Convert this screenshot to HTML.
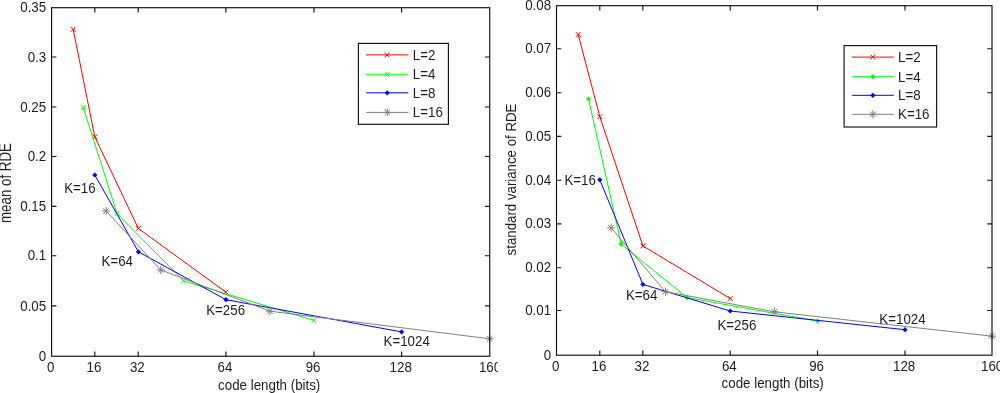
<!DOCTYPE html>
<html><head><meta charset="utf-8"><title>RDE plots</title>
<style>
html,body{margin:0;padding:0;background:#fff;}
body{width:1000px;height:393px;overflow:hidden;}
svg{display:block;}
svg text{font-family:"Liberation Sans",sans-serif;font-size:13.33px;fill:#1c1c1c;}
</style></head>
<body>
<svg width="1000" height="393" viewBox="0 0 1000 393">
<rect width="1000" height="393" fill="#fff"/>
<defs><clipPath id="cl"><rect x="0" y="0" width="497.7" height="393"/></clipPath></defs>
<g clip-path="url(#cl)">
<polyline points="73.2,29.4 94.8,136.9 138.3,228.4 225.8,292.1" fill="none" stroke="#ff0000" stroke-width="1"/>
<path d="M70.8 27L75.6 31.8M70.8 31.8L75.6 27" stroke="#ff0000" stroke-width="1" fill="none"/>
<path d="M92.4 134.5L97.2 139.3M92.4 139.3L97.2 134.5" stroke="#ff0000" stroke-width="1" fill="none"/>
<path d="M135.9 226L140.7 230.8M135.9 230.8L140.7 226" stroke="#ff0000" stroke-width="1" fill="none"/>
<path d="M223.4 289.7L228.2 294.5M223.4 294.5L228.2 289.7" stroke="#ff0000" stroke-width="1" fill="none"/>
<polyline points="83.3,107.7 117,213.5 183.5,280.8 313.9,320.4" fill="none" stroke="#00ff00" stroke-width="1"/>
<path d="M80.9 105.3L85.7 110.1M80.9 110.1L85.7 105.3" stroke="#00ff00" stroke-width="1" fill="none"/>
<path d="M114.6 211.1L119.4 215.9M114.6 215.9L119.4 211.1" stroke="#00ff00" stroke-width="1" fill="none"/>
<path d="M181.1 278.4L185.9 283.2M181.1 283.2L185.9 278.4" stroke="#00ff00" stroke-width="1" fill="none"/>
<path d="M311.5 318L316.3 322.8M311.5 322.8L316.3 318" stroke="#00ff00" stroke-width="1" fill="none"/>
<polyline points="94.8,175 138.5,251.9 226,299.7 401.6,331.9" fill="none" stroke="#0000ff" stroke-width="1"/>
<path d="M94.8 172.4L97.4 175L94.8 177.6L92.2 175Z" fill="#0000ff"/>
<path d="M138.5 249.3L141.1 251.9L138.5 254.5L135.9 251.9Z" fill="#0000ff"/>
<path d="M226 297.1L228.6 299.7L226 302.3L223.4 299.7Z" fill="#0000ff"/>
<path d="M401.6 329.3L404.2 331.9L401.6 334.5L399 331.9Z" fill="#0000ff"/>
<polyline points="106.2,211 160.7,269.9 270,311.2 489.7,338.8" fill="none" stroke="#808080" stroke-width="1"/>
<path d="M102.1 211L110.3 211M106.2 206.9L106.2 215.1M103.4 208.2L109 213.8M103.4 213.8L109 208.2" stroke="#808080" stroke-width="1" fill="none"/>
<path d="M156.6 269.9L164.8 269.9M160.7 265.8L160.7 274M157.9 267.1L163.5 272.7M157.9 272.7L163.5 267.1" stroke="#808080" stroke-width="1" fill="none"/>
<path d="M265.9 311.2L274.1 311.2M270 307.1L270 315.3M267.2 308.4L272.8 314M267.2 314L272.8 308.4" stroke="#808080" stroke-width="1" fill="none"/>
<path d="M485.6 338.8L493.8 338.8M489.7 334.7L489.7 342.9M486.9 336L492.5 341.6M486.9 341.6L492.5 336" stroke="#808080" stroke-width="1" fill="none"/>
<rect x="51.6" y="7.7" width="438.15" height="348.55" fill="none" stroke="#111" stroke-width="1.15"/>
<path d="M94.8 356.25v-4.8M94.8 7.7v4.8M138.2 356.25v-4.8M138.2 7.7v4.8M225.9 356.25v-4.8M225.9 7.7v4.8M314 356.25v-4.8M314 7.7v4.8M401.6 356.25v-4.8M401.6 7.7v4.8M51.6 305.9h4.8M489.75 305.9h-4.8M51.6 255.7h4.8M489.75 255.7h-4.8M51.6 206.3h4.8M489.75 206.3h-4.8M51.6 156.5h4.8M489.75 156.5h-4.8M51.6 107h4.8M489.75 107h-4.8M51.6 57h4.8M489.75 57h-4.8" stroke="#111" stroke-width="1.15" fill="none"/>
<text transform="translate(50.6 372.35) scale(1 1.07)" text-anchor="middle">0</text>
<text transform="translate(93.9 372.35) scale(1 1.07)" text-anchor="middle">16</text>
<text transform="translate(137.3 372.35) scale(1 1.07)" text-anchor="middle">32</text>
<text transform="translate(225 372.35) scale(1 1.07)" text-anchor="middle">64</text>
<text transform="translate(313.1 372.35) scale(1 1.07)" text-anchor="middle">96</text>
<text transform="translate(400.7 372.35) scale(1 1.07)" text-anchor="middle">128</text>
<text transform="translate(490 372.35) scale(1 1.07)" text-anchor="middle">160</text>
<text transform="translate(46.2 360.7) scale(1 1.07)" text-anchor="end">0</text>
<text transform="translate(46.2 310.5) scale(1 1.07)" text-anchor="end">0.05</text>
<text transform="translate(46.2 260.3) scale(1 1.07)" text-anchor="end">0.1</text>
<text transform="translate(46.2 210.9) scale(1 1.07)" text-anchor="end">0.15</text>
<text transform="translate(46.2 161.1) scale(1 1.07)" text-anchor="end">0.2</text>
<text transform="translate(46.2 111.6) scale(1 1.07)" text-anchor="end">0.25</text>
<text transform="translate(46.2 61.6) scale(1 1.07)" text-anchor="end">0.3</text>
<text transform="translate(46.2 12.3) scale(1 1.07)" text-anchor="end">0.35</text>
<text transform="translate(64.2 192.6) scale(1 1.07)">K=16</text>
<text transform="translate(101.5 265.6) scale(1 1.07)">K=64</text>
<text transform="translate(206.2 314.7) scale(1 1.07)">K=256</text>
<text transform="translate(383.5 345.5) scale(1 1.07)">K=1024</text>
<rect x="358.4" y="43.4" width="90" height="80.9" fill="#fff" stroke="#111" stroke-width="1.15"/>
<path d="M366.1 54.9H408.4" stroke="#ff0000" stroke-width="1"/>
<path d="M384.85 52.5L389.65 57.3M384.85 57.3L389.65 52.5" stroke="#ff0000" stroke-width="1" fill="none"/>
<text transform="translate(412.8 59.9) scale(1 1.07)">L=2</text>
<path d="M366.1 74.3H408.4" stroke="#00ff00" stroke-width="1"/>
<path d="M384.85 71.9L389.65 76.7M384.85 76.7L389.65 71.9" stroke="#00ff00" stroke-width="1" fill="none"/>
<text transform="translate(412.8 79.3) scale(1 1.07)">L=4</text>
<path d="M366.1 92.8H408.4" stroke="#0000ff" stroke-width="1"/>
<path d="M387.25 90.2L389.85 92.8L387.25 95.4L384.65 92.8Z" fill="#0000ff"/>
<text transform="translate(412.8 97.8) scale(1 1.07)">L=8</text>
<path d="M366.1 112.4H408.4" stroke="#808080" stroke-width="1"/>
<path d="M383.15 112.4L391.35 112.4M387.25 108.3L387.25 116.5M384.45 109.6L390.05 115.2M384.45 115.2L390.05 109.6" stroke="#808080" stroke-width="1" fill="none"/>
<text transform="translate(412.8 117.4) scale(1 1.07)">L=16</text>
<text transform="translate(11.2 183) rotate(-90) scale(1 1.17)" text-anchor="middle">mean of RDE</text>
<text transform="translate(269.2 389.5) scale(1 1.07)" text-anchor="middle">code length (bits)</text>
</g>
<g>
<polyline points="578.2,34.5 599.8,116.7 642.9,245.9 730.2,298.5" fill="none" stroke="#ff0000" stroke-width="1"/>
<path d="M575.8 32.1L580.6 36.9M575.8 36.9L580.6 32.1" stroke="#ff0000" stroke-width="1" fill="none"/>
<path d="M597.4 114.3L602.2 119.1M597.4 119.1L602.2 114.3" stroke="#ff0000" stroke-width="1" fill="none"/>
<path d="M640.5 243.5L645.3 248.3M640.5 248.3L645.3 243.5" stroke="#ff0000" stroke-width="1" fill="none"/>
<path d="M727.8 296.1L732.6 300.9M727.8 300.9L732.6 296.1" stroke="#ff0000" stroke-width="1" fill="none"/>
<polyline points="588.5,99 621.2,244.1 687,297.6 817.7,321.1" fill="none" stroke="#00ff00" stroke-width="1"/>
<path d="M588.5 96.4L591.1 99L588.5 101.6L585.9 99Z" fill="#00ff00"/>
<path d="M621.2 241.5L623.8 244.1L621.2 246.7L618.6 244.1Z" fill="#00ff00"/>
<path d="M687 295L689.6 297.6L687 300.2L684.4 297.6Z" fill="#00ff00"/>
<path d="M817.7 318.5L820.3 321.1L817.7 323.7L815.1 321.1Z" fill="#00ff00"/>
<polyline points="599.8,179.8 642.9,284.4 730.2,311 905,329.7" fill="none" stroke="#0000ff" stroke-width="1"/>
<path d="M599.8 177.2L602.4 179.8L599.8 182.4L597.2 179.8Z" fill="#0000ff"/>
<path d="M642.9 281.8L645.5 284.4L642.9 287L640.3 284.4Z" fill="#0000ff"/>
<path d="M730.2 308.4L732.8 311L730.2 313.6L727.6 311Z" fill="#0000ff"/>
<path d="M905 327.1L907.6 329.7L905 332.3L902.4 329.7Z" fill="#0000ff"/>
<polyline points="611.1,227.8 665.4,291.7 774.4,311.8 992.1,336.2" fill="none" stroke="#808080" stroke-width="1"/>
<path d="M607 227.8L615.2 227.8M611.1 223.7L611.1 231.9M608.3 225L613.9 230.6M608.3 230.6L613.9 225" stroke="#808080" stroke-width="1" fill="none"/>
<path d="M661.3 291.7L669.5 291.7M665.4 287.6L665.4 295.8M662.6 288.9L668.2 294.5M662.6 294.5L668.2 288.9" stroke="#808080" stroke-width="1" fill="none"/>
<path d="M770.3 311.8L778.5 311.8M774.4 307.7L774.4 315.9M771.6 309L777.2 314.6M771.6 314.6L777.2 309" stroke="#808080" stroke-width="1" fill="none"/>
<path d="M988 336.2L996.2 336.2M992.1 332.1L992.1 340.3M989.3 333.4L994.9 339M989.3 339L994.9 333.4" stroke="#808080" stroke-width="1" fill="none"/>
<rect x="556.5" y="5.7" width="435.5" height="349.5" fill="none" stroke="#111" stroke-width="1.15"/>
<path d="M599.8 355.2v-4.8M599.8 5.7v4.8M642.8 355.2v-4.8M642.8 5.7v4.8M730.2 355.2v-4.8M730.2 5.7v4.8M817.5 355.2v-4.8M817.5 5.7v4.8M905 355.2v-4.8M905 5.7v4.8M556.5 310.5h4.8M992 310.5h-4.8M556.5 267.7h4.8M992 267.7h-4.8M556.5 223.8h4.8M992 223.8h-4.8M556.5 180.2h4.8M992 180.2h-4.8M556.5 136.4h4.8M992 136.4h-4.8M556.5 92.7h4.8M992 92.7h-4.8M556.5 48.7h4.8M992 48.7h-4.8" stroke="#111" stroke-width="1.15" fill="none"/>
<text transform="translate(555.6 371.3) scale(1 1.07)" text-anchor="middle">0</text>
<text transform="translate(598.9 371.3) scale(1 1.07)" text-anchor="middle">16</text>
<text transform="translate(641.9 371.3) scale(1 1.07)" text-anchor="middle">32</text>
<text transform="translate(729.3 371.3) scale(1 1.07)" text-anchor="middle">64</text>
<text transform="translate(816.6 371.3) scale(1 1.07)" text-anchor="middle">96</text>
<text transform="translate(904.1 371.3) scale(1 1.07)" text-anchor="middle">128</text>
<text transform="translate(992.1 371.3) scale(1 1.07)" text-anchor="middle">160</text>
<text transform="translate(551.1 359.7) scale(1 1.07)" text-anchor="end">0</text>
<text transform="translate(551.1 315.1) scale(1 1.07)" text-anchor="end">0.01</text>
<text transform="translate(551.1 272.3) scale(1 1.07)" text-anchor="end">0.02</text>
<text transform="translate(551.1 228.4) scale(1 1.07)" text-anchor="end">0.03</text>
<text transform="translate(551.1 184.8) scale(1 1.07)" text-anchor="end">0.04</text>
<text transform="translate(551.1 141) scale(1 1.07)" text-anchor="end">0.05</text>
<text transform="translate(551.1 97.3) scale(1 1.07)" text-anchor="end">0.06</text>
<text transform="translate(551.1 53.3) scale(1 1.07)" text-anchor="end">0.07</text>
<text transform="translate(551.1 10.3) scale(1 1.07)" text-anchor="end">0.08</text>
<text transform="translate(564.4 185.1) scale(1 1.07)">K=16</text>
<text transform="translate(625.9 300) scale(1 1.07)">K=64</text>
<text transform="translate(717.4 329.7) scale(1 1.07)">K=256</text>
<text transform="translate(879.3 324) scale(1 1.07)">K=1024</text>
<rect x="844.1" y="45.6" width="92.5" height="81.4" fill="#fff" stroke="#111" stroke-width="1.15"/>
<path d="M851.9 57.1H893.8" stroke="#ff0000" stroke-width="1"/>
<path d="M870.45 54.7L875.25 59.5M870.45 59.5L875.25 54.7" stroke="#ff0000" stroke-width="1" fill="none"/>
<text transform="translate(898 62.1) scale(1 1.07)">L=2</text>
<path d="M851.9 76.7H893.8" stroke="#00ff00" stroke-width="1"/>
<path d="M872.85 74.1L875.45 76.7L872.85 79.3L870.25 76.7Z" fill="#00ff00"/>
<text transform="translate(898 81.7) scale(1 1.07)">L=4</text>
<path d="M851.9 95.3H893.8" stroke="#0000ff" stroke-width="1"/>
<path d="M872.85 92.7L875.45 95.3L872.85 97.9L870.25 95.3Z" fill="#0000ff"/>
<text transform="translate(898 100.3) scale(1 1.07)">L=8</text>
<path d="M851.9 114.3H893.8" stroke="#808080" stroke-width="1"/>
<path d="M868.75 114.3L876.95 114.3M872.85 110.2L872.85 118.4M870.05 111.5L875.65 117.1M870.05 117.1L875.65 111.5" stroke="#808080" stroke-width="1" fill="none"/>
<text transform="translate(898 119.3) scale(1 1.07)">K=16</text>
<text transform="translate(516 179.5) rotate(-90) scale(0.996 1.1)" text-anchor="middle">standard variance of RDE</text>
<text transform="translate(772.7 388.4) scale(1 1.07)" text-anchor="middle">code length (bits)</text>
</g>
</svg>
</body></html>
